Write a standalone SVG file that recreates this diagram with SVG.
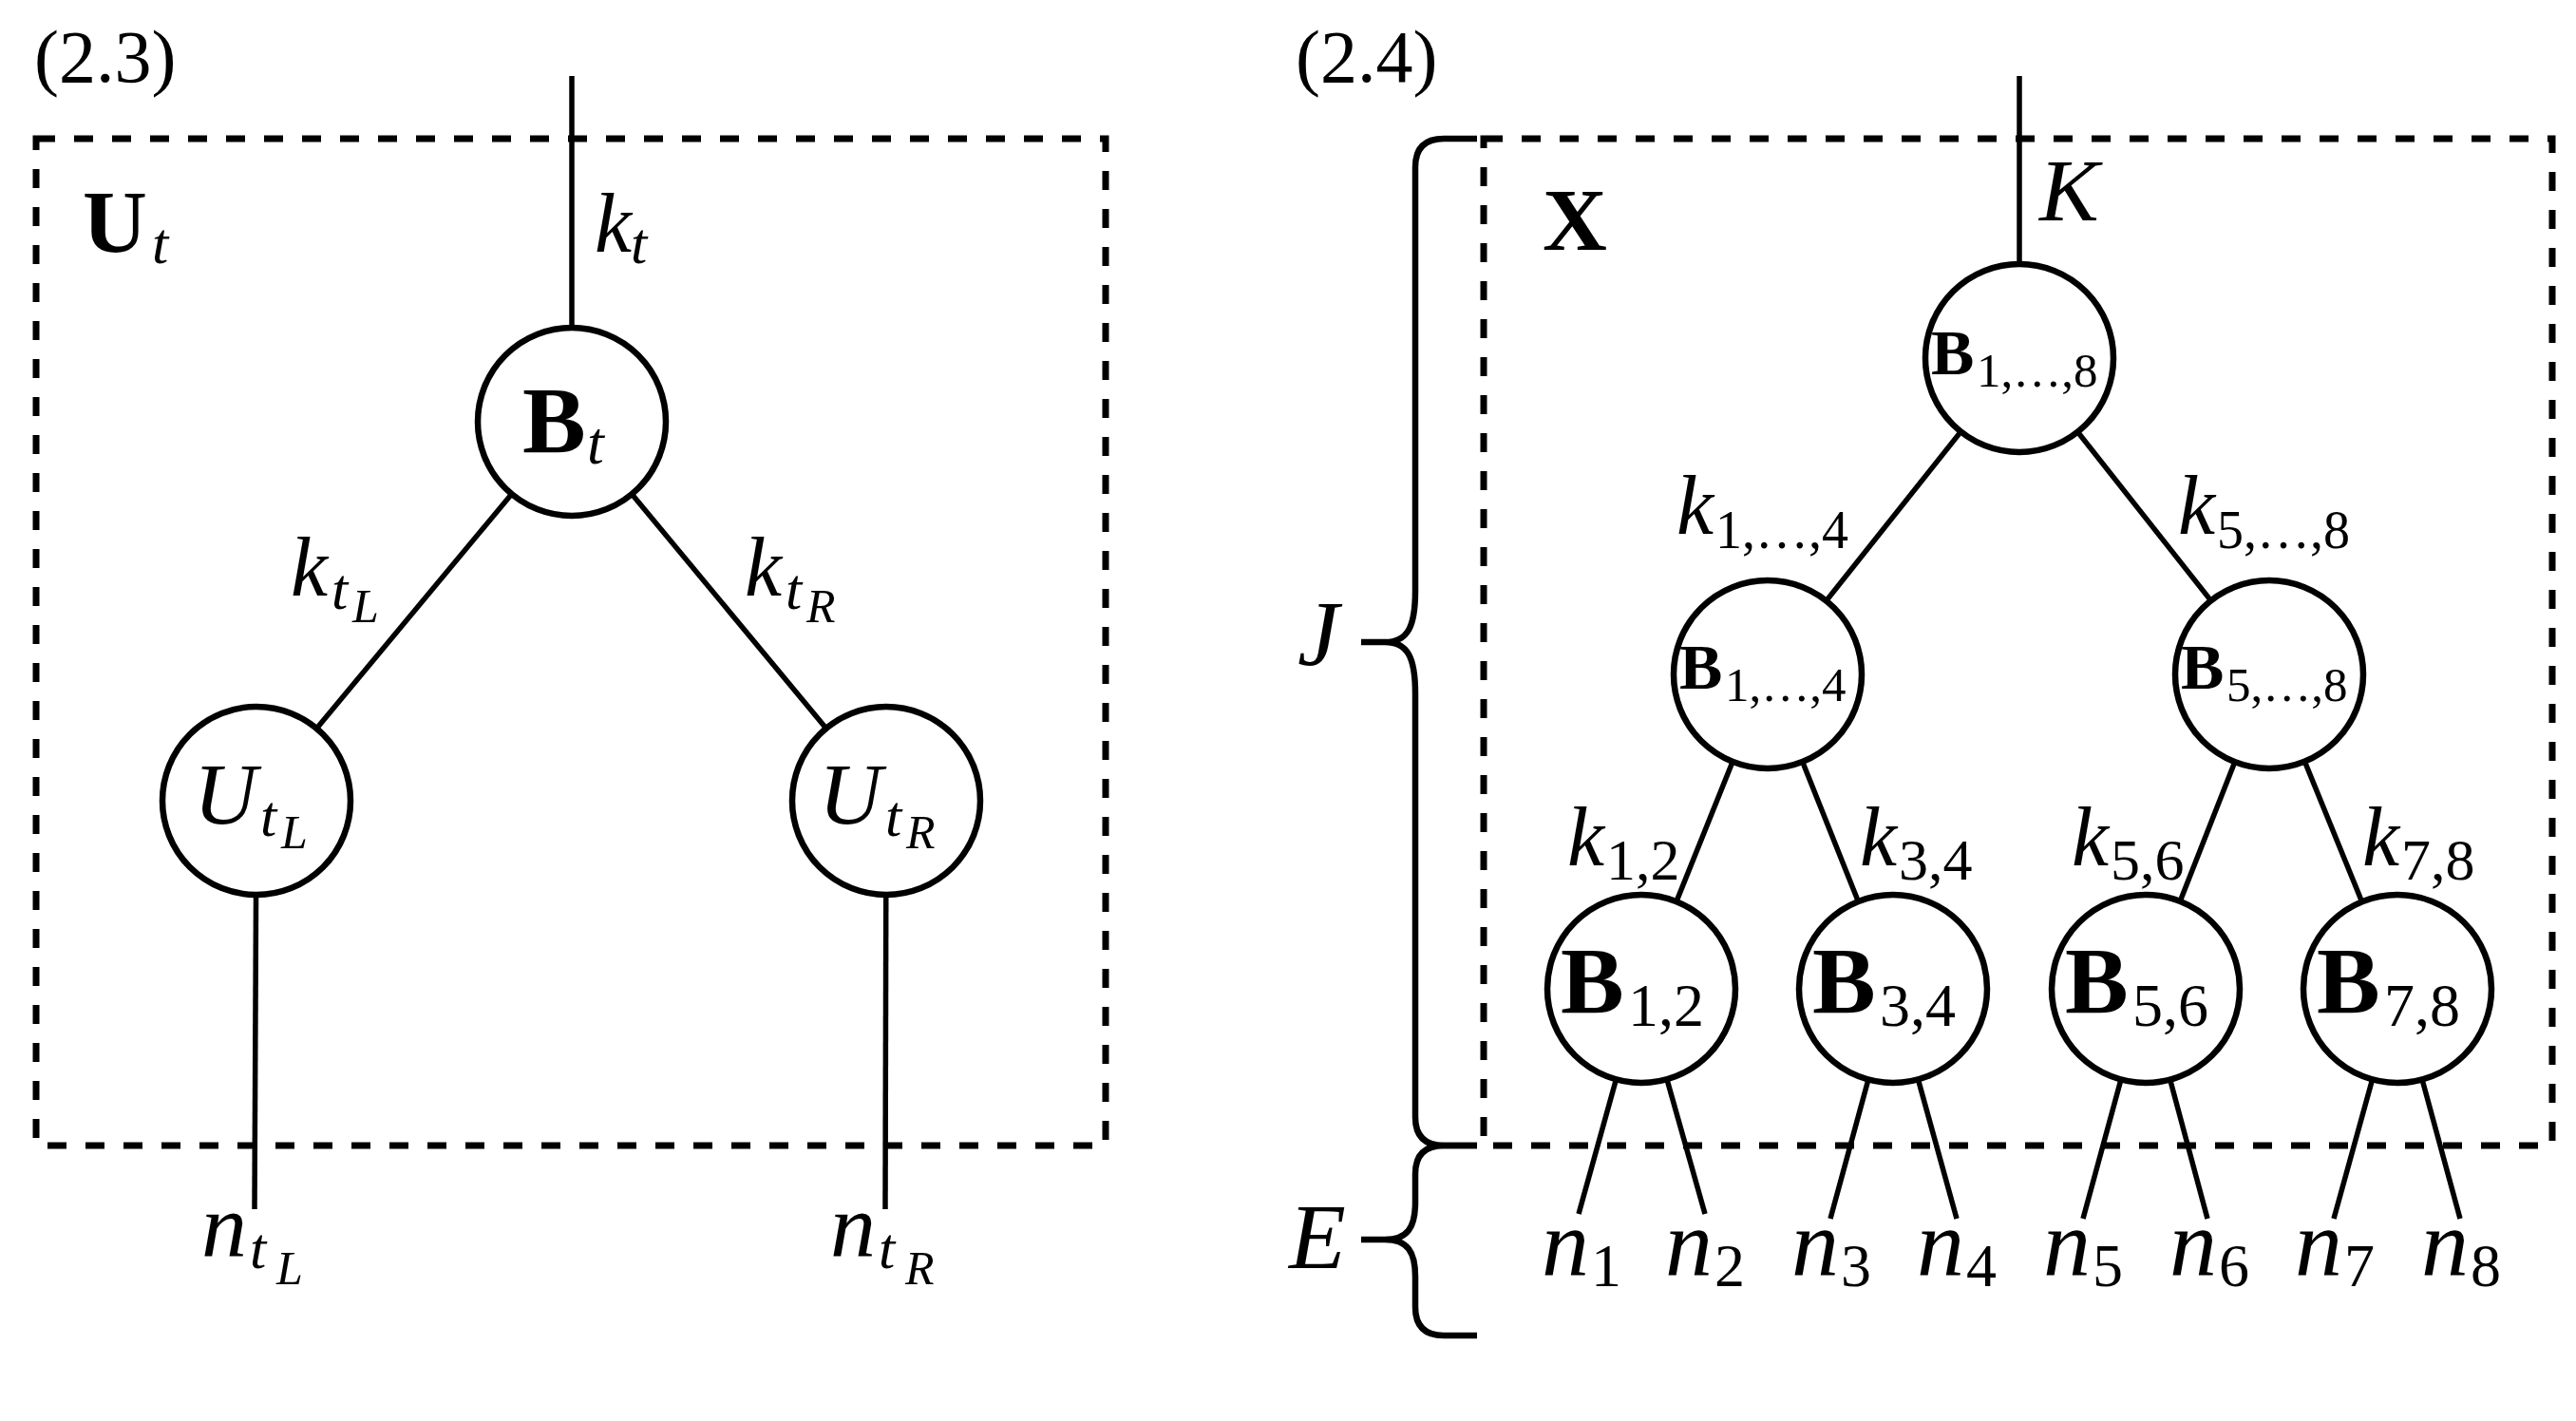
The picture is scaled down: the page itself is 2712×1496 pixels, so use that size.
<svg xmlns="http://www.w3.org/2000/svg" width="2712" height="1496" viewBox="0 0 2712 1496">
<style>
  text { font-family: "Liberation Serif", "Times New Roman", serif; fill: #000; }
  .it { font-style: italic; }
  .bf { font-weight: bold; }
  .rm { font-style: normal; font-weight: normal; }
  .edge { stroke: #000; stroke-width: 5.5; fill: none; }
  .node { stroke: #000; stroke-width: 6.5; fill: #fff; }
  .box { stroke: #000; stroke-width: 7; fill: none; stroke-dasharray: 20 20; }
  .brace { stroke: #000; stroke-width: 6.5; fill: none; }
</style>
<rect width="2712" height="1496" fill="#fff"/>

<!-- Panel (2.3) -->
<text id="eq23" x="36" y="86" font-size="78">(2.3)</text>
<rect id="box-Ut" class="box" x="38" y="146" width="1126" height="1060"/>
<text id="label-Ut" y="265"><tspan class="bf" x="87" font-size="94">U</tspan><tspan class="it" x="160" y="277" font-size="62">t</tspan></text>

<g id="connectors-23">
  <line class="edge" x1="602" y1="80" x2="602" y2="444"/>
  <line class="edge" x1="602" y1="444" x2="270" y2="843"/>
  <line class="edge" x1="602" y1="444" x2="933" y2="843"/>
  <line class="edge" x1="270" y1="843" x2="268" y2="1273"/>
  <line class="edge" x1="933" y1="843" x2="932" y2="1273"/>
</g>

<g id="node-Bt">
  <circle class="node" cx="602" cy="444" r="99"/>
  <text y="476"><tspan class="bf" x="550" font-size="100">B</tspan><tspan class="it" x="618" y="488" font-size="64">t</tspan></text>
</g>
<g id="node-UtL">
  <circle class="node" cx="270" cy="843" r="99"/>
  <text y="867"><tspan class="it" x="204" font-size="92">U</tspan><tspan class="it" x="274" y="880" font-size="62">t</tspan><tspan class="it" x="296" y="893" font-size="50">L</tspan></text>
</g>
<g id="node-UtR">
  <circle class="node" cx="933" cy="843" r="99"/>
  <text y="867"><tspan class="it" x="862" font-size="92">U</tspan><tspan class="it" x="932" y="880" font-size="62">t</tspan><tspan class="it" x="954" y="893" font-size="50">R</tspan></text>
</g>

<g id="edge-labels-23">
  <text y="265"><tspan class="it" x="626" font-size="88">k</tspan><tspan class="it" x="664" y="277" font-size="62">t</tspan></text>
  <text y="627"><tspan class="it" x="306" font-size="88">k</tspan><tspan class="it" x="349" y="641" font-size="62">t</tspan><tspan class="it" x="371" y="655" font-size="50">L</tspan></text>
  <text y="627"><tspan class="it" x="784" font-size="88">k</tspan><tspan class="it" x="827" y="641" font-size="62">t</tspan><tspan class="it" x="849" y="655" font-size="50">R</tspan></text>
  <text y="1323"><tspan class="it" x="212" font-size="96">n</tspan><tspan class="it" x="263" y="1335" font-size="62">t</tspan><tspan class="it" x="291" y="1352" font-size="50">L</tspan></text>
  <text y="1323"><tspan class="it" x="874" font-size="96">n</tspan><tspan class="it" x="925" y="1335" font-size="62">t</tspan><tspan class="it" x="953" y="1352" font-size="50">R</tspan></text>
</g>

<!-- Panel (2.4) -->
<text id="eq24" x="1364" y="86" font-size="78">(2.4)</text>
<rect id="box-X" class="box" x="1562" y="146" width="1125" height="1060"/>
<text id="label-X" class="bf" x="1624" y="263" font-size="94">X</text>

<g id="braces">
  <path class="brace" d="M 1555 146 H 1520 Q 1490 146 1490 176 V 622 C 1490 660 1482 676 1458 676 H 1433 M 1458 676 C 1482 676 1490 692 1490 730 V 1176 Q 1490 1206 1520 1206 H 1555"/>
  <path class="brace" d="M 1555 1206 H 1520 Q 1490 1206 1490 1236 V 1266 C 1490 1292 1482 1305 1458 1305 H 1433 M 1458 1305 C 1482 1305 1490 1318 1490 1344 V 1376 Q 1490 1406 1520 1406 H 1555"/>
  <text class="it" x="1366" y="700" font-size="98">J</text>
  <text class="it" x="1357" y="1335" font-size="98">E</text>
</g>

<g id="connectors-24">
  <line class="edge" x1="2126" y1="80" x2="2126" y2="377"/>
  <line class="edge" x1="2126" y1="377" x2="1861" y2="710"/>
  <line class="edge" x1="2126" y1="377" x2="2389" y2="710"/>
  <line class="edge" x1="1861" y1="710" x2="1728" y2="1041"/>
  <line class="edge" x1="1861" y1="710" x2="1993" y2="1041"/>
  <line class="edge" x1="2389" y1="710" x2="2259" y2="1041"/>
  <line class="edge" x1="2389" y1="710" x2="2524" y2="1041"/>
  <line class="edge" x1="1728" y1="1041" x2="1662" y2="1278"/>
  <line class="edge" x1="1728" y1="1041" x2="1795" y2="1278"/>
  <line class="edge" x1="1993" y1="1041" x2="1927" y2="1283"/>
  <line class="edge" x1="1993" y1="1041" x2="2060" y2="1283"/>
  <line class="edge" x1="2259" y1="1041" x2="2193" y2="1283"/>
  <line class="edge" x1="2259" y1="1041" x2="2324" y2="1283"/>
  <line class="edge" x1="2524" y1="1041" x2="2457" y2="1283"/>
  <line class="edge" x1="2524" y1="1041" x2="2590" y2="1283"/>
</g>

<g id="node-B1-8">
  <circle class="node" cx="2126" cy="377" r="99"/>
  <text y="394"><tspan class="bf" x="2033" font-size="68">B</tspan><tspan class="rm" x="2081" y="407" font-size="51">1,…,8</tspan></text>
</g>
<g id="node-B1-4">
  <circle class="node" cx="1861" cy="710" r="99"/>
  <text y="725"><tspan class="bf" x="1768" font-size="68">B</tspan><tspan class="rm" x="1816" y="738" font-size="51">1,…,4</tspan></text>
</g>
<g id="node-B5-8">
  <circle class="node" cx="2389" cy="710" r="99"/>
  <text y="725"><tspan class="bf" x="2296" font-size="68">B</tspan><tspan class="rm" x="2344" y="738" font-size="51">5,…,8</tspan></text>
</g>
<g id="node-B12">
  <circle class="node" cx="1728" cy="1041" r="99"/>
  <text y="1066"><tspan class="bf" x="1643" font-size="100">B</tspan><tspan class="rm" x="1714" y="1080" font-size="64">1,2</tspan></text>
</g>
<g id="node-B34">
  <circle class="node" cx="1993" cy="1041" r="99"/>
  <text y="1066"><tspan class="bf" x="1908" font-size="100">B</tspan><tspan class="rm" x="1979" y="1080" font-size="64">3,4</tspan></text>
</g>
<g id="node-B56">
  <circle class="node" cx="2259" cy="1041" r="99"/>
  <text y="1066"><tspan class="bf" x="2174" font-size="100">B</tspan><tspan class="rm" x="2245" y="1080" font-size="64">5,6</tspan></text>
</g>
<g id="node-B78">
  <circle class="node" cx="2524" cy="1041" r="99"/>
  <text y="1066"><tspan class="bf" x="2439" font-size="100">B</tspan><tspan class="rm" x="2510" y="1080" font-size="64">7,8</tspan></text>
</g>

<g id="edge-labels-24">
  <text class="it" x="2147" y="232" font-size="94">K</text>
  <text y="562"><tspan class="it" x="1765" font-size="88">k</tspan><tspan class="rm" x="1806" y="577" font-size="56">1,…,4</tspan></text>
  <text y="562"><tspan class="it" x="2293" font-size="88">k</tspan><tspan class="rm" x="2334" y="577" font-size="56">5,…,8</tspan></text>
  <text y="911"><tspan class="it" x="1650" font-size="88">k</tspan><tspan class="rm" x="1691" y="926" font-size="62">1,2</tspan></text>
  <text y="911"><tspan class="it" x="1958" font-size="88">k</tspan><tspan class="rm" x="1999" y="926" font-size="62">3,4</tspan></text>
  <text y="911"><tspan class="it" x="2181" font-size="88">k</tspan><tspan class="rm" x="2222" y="926" font-size="62">5,6</tspan></text>
  <text y="911"><tspan class="it" x="2487" font-size="88">k</tspan><tspan class="rm" x="2528" y="926" font-size="62">7,8</tspan></text>
  <text y="1342"><tspan class="it" x="1623" font-size="100">n</tspan><tspan class="rm" x="1675" y="1354" font-size="64">1</tspan></text>
  <text y="1342"><tspan class="it" x="1753" font-size="100">n</tspan><tspan class="rm" x="1805" y="1354" font-size="64">2</tspan></text>
  <text y="1342"><tspan class="it" x="1886" font-size="100">n</tspan><tspan class="rm" x="1938" y="1354" font-size="64">3</tspan></text>
  <text y="1342"><tspan class="it" x="2018" font-size="100">n</tspan><tspan class="rm" x="2070" y="1354" font-size="64">4</tspan></text>
  <text y="1342"><tspan class="it" x="2151" font-size="100">n</tspan><tspan class="rm" x="2203" y="1354" font-size="64">5</tspan></text>
  <text y="1342"><tspan class="it" x="2284" font-size="100">n</tspan><tspan class="rm" x="2336" y="1354" font-size="64">6</tspan></text>
  <text y="1342"><tspan class="it" x="2416" font-size="100">n</tspan><tspan class="rm" x="2468" y="1354" font-size="64">7</tspan></text>
  <text y="1342"><tspan class="it" x="2549" font-size="100">n</tspan><tspan class="rm" x="2601" y="1354" font-size="64">8</tspan></text>
</g>
</svg>
